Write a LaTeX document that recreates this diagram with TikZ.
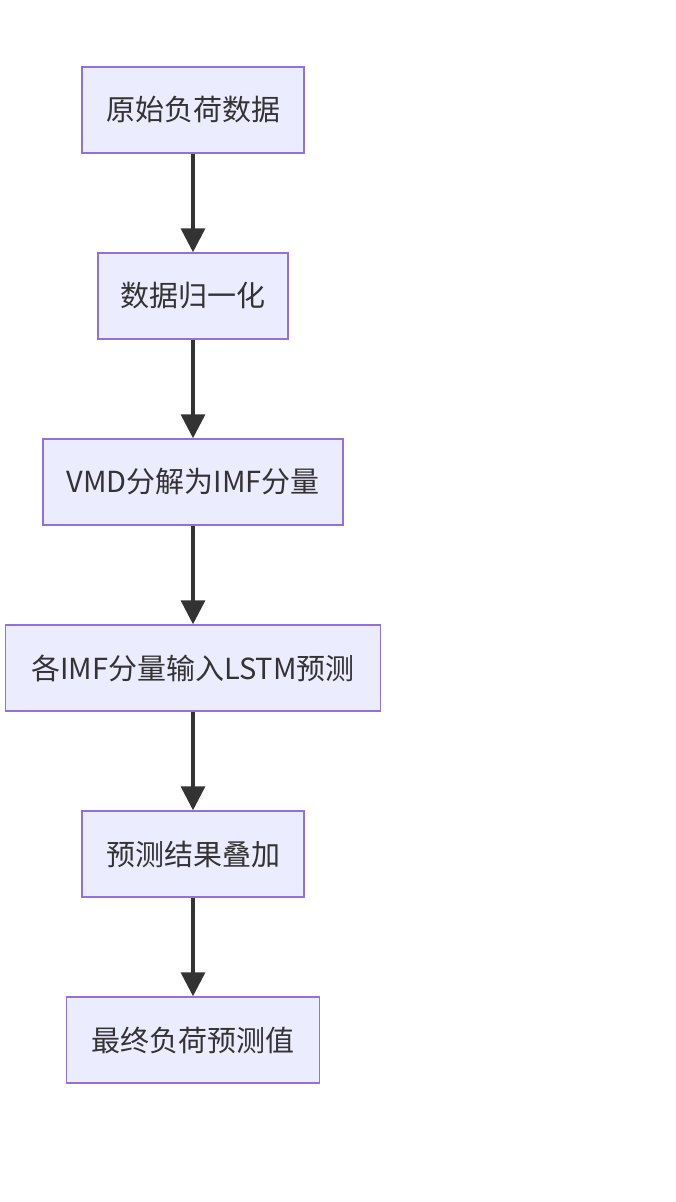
\documentclass[tikz,border=0pt]{standalone}
\usepackage{fontspec}
\setmainfont{Noto Sans CJK SC}
\usetikzlibrary{arrows.meta}
\definecolor{boxfill}{HTML}{ECECFF}
\definecolor{boxline}{HTML}{9370DB}
\definecolor{arr}{HTML}{333333}
\begin{document}
\begin{tikzpicture}[x=1pt,y=-1pt,
  box/.style={draw=boxline,fill=boxfill,line width=1.5pt,minimum height=86pt,inner sep=0pt,text=arr,font=\fontsize{29}{34}\selectfont},
  flow/.style={draw=arr,line width=3.5pt,-{Triangle[length=24pt,width=24pt]}}]
\useasboundingbox (0,0) rectangle (676,1202);
\node[box,minimum width=222pt] (a) at (193,110) {原始负荷数据};
\node[box,minimum width=190pt] (b) at (193,296) {数据归一化};
\node[box,minimum width=300pt] (c) at (193,482) {VMD分解为IMF分量};
\node[box,minimum width=375pt] (d) at (193,668) {各IMF分量输入LSTM预测};
\node[box,minimum width=222pt] (e) at (193,854) {预测结果叠加};
\node[box,minimum width=253pt] (f) at (193,1040) {最终负荷预测值};
\draw[flow] (a) -- (b);
\draw[flow] (b) -- (c);
\draw[flow] (c) -- (d);
\draw[flow] (d) -- (e);
\draw[flow] (e) -- (f);
\end{tikzpicture}
\end{document}
